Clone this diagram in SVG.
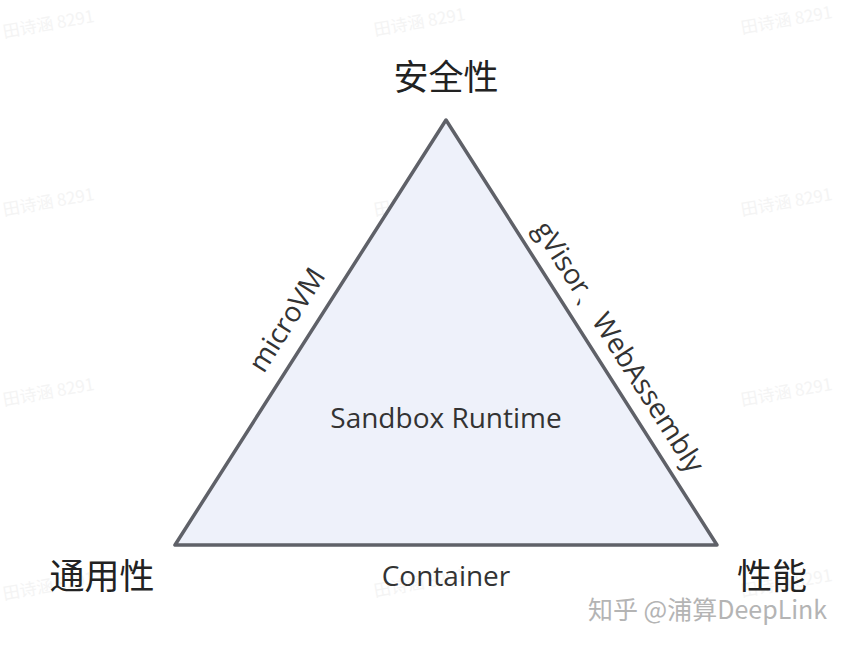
<svg xmlns="http://www.w3.org/2000/svg" width="855" height="648" viewBox="0 0 855 648">
<style>
.wm{font-family:"Noto Sans CJK SC","Noto Sans",sans-serif;font-size:17px;fill:#f4f4f4;}
.cn{font-family:"Noto Sans CJK SC","Noto Sans",sans-serif;font-size:35px;fill:#222;}
.en{font-family:"Open Sans","Noto Sans",sans-serif;fill:#333;}
.tri{fill:#eef1fa;stroke:#5f6168;stroke-width:3.5;stroke-linejoin:round;}
</style>
<rect width="855" height="648" fill="#ffffff"/>
<g id="watermarks">
<text class="wm" transform="translate(4,38) rotate(-10)">田诗涵 8291</text>
<text class="wm" transform="translate(375,36) rotate(-10)">田诗涵 8291</text>
<text class="wm" transform="translate(742,34) rotate(-10)">田诗涵 8291</text>
<text class="wm" transform="translate(4,216) rotate(-10)">田诗涵 8291</text>
<text class="wm" transform="translate(375,216) rotate(-10)">田诗涵 8291</text>
<text class="wm" transform="translate(742,216) rotate(-10)">田诗涵 8291</text>
<text class="wm" transform="translate(4,406) rotate(-10)">田诗涵 8291</text>
<text class="wm" transform="translate(375,406) rotate(-10)">田诗涵 8291</text>
<text class="wm" transform="translate(742,406) rotate(-10)">田诗涵 8291</text>
<text class="wm" transform="translate(4,600) rotate(-10)">田诗涵 8291</text>
<text class="wm" transform="translate(375,597) rotate(-10)">田诗涵 8291</text>
<text class="wm" transform="translate(742,597) rotate(-10)">田诗涵 8291</text>
</g>
<g id="triangle">
<polygon class="tri" points="446,120 175,545 717,545"/>
<text class="en" x="446" y="428" font-size="28" text-anchor="middle">Sandbox Runtime</text>
</g>
<g id="connectors">
<text class="en" font-size="28" text-anchor="middle" transform="translate(295,325) rotate(-57.5)">microVM</text>
<text class="en" font-size="28" text-anchor="middle" transform="translate(611,352) rotate(57.5)">gVisor、WebAssembly</text>
<text class="en" x="446" y="586" font-size="28" text-anchor="middle">Container</text>
</g>
<g id="n-safety"><text class="cn" x="446" y="90" text-anchor="middle">安全性</text></g>
<g id="n-general"><text class="cn" x="102" y="589" text-anchor="middle">通用性</text></g>
<g id="n-perf"><text class="cn" x="772" y="589" text-anchor="middle">性能</text></g>
<g id="zhihu"><text x="588" y="619" font-family="Noto Sans CJK SC,Noto Sans,sans-serif" font-size="25" fill="#b4b4b4">知乎 @浦算DeepLink</text></g>
</svg>
